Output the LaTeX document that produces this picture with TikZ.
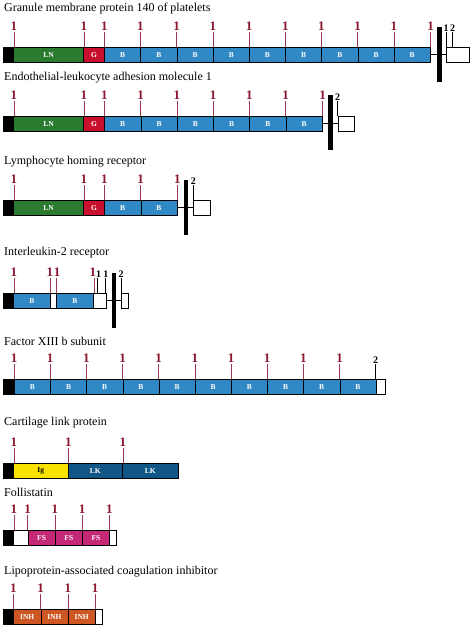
\documentclass[tikz,border=0pt]{standalone}
\usepackage{fontspec}
\setmainfont{Liberation Serif}
\usetikzlibrary{positioning}
\definecolor{lnGreen}{RGB}{42,122,48}
\definecolor{gRed}{RGB}{200,16,46}
\definecolor{bBlue}{RGB}{48,136,196}
\definecolor{igYellow}{RGB}{250,226,0}
\definecolor{lkBlue}{RGB}{16,86,134}
\definecolor{fsPink}{RGB}{198,40,120}
\definecolor{inhOrange}{RGB}{206,86,34}
\definecolor{oneRed}{RGB}{140,22,48}

\begin{document}
\begin{tikzpicture}[x=1pt,y=-1pt,
  title/.style={anchor=west,inner sep=0pt,font=\fontsize{12}{12}\selectfont},
  seg/.style={draw=black,line width=0.6pt,anchor=north west,inner sep=0pt,minimum height=15pt,text=white,font=\bfseries\fontsize{7.5}{7.5}\selectfont},
  one/.style={anchor=base,yshift=2pt,inner sep=0pt,text=oneRed,font=\bfseries\fontsize{13}{13}\selectfont},
  num/.style={anchor=base,yshift=1pt,inner sep=0pt,font=\bfseries\fontsize{10}{10}\selectfont},
  tick/.style={draw=oneRed!85,line width=0.5pt},
  ntick/.style={draw=black,line width=0.5pt},
  memb/.style={fill=black,anchor=north west,inner sep=0pt,minimum width=4.6pt,minimum height=55pt},
  link/.style={draw=black,line width=1pt}]
\useasboundingbox (0,0) rectangle (474,629);

% granule membrane protein 140
\node[title] (t1) at (4,9) {Granule membrane protein 140 of platelets};
\node[seg,fill=black,minimum width=10.3pt] (k1) at (3,47) {};
\node[seg,fill=lnGreen,minimum width=70pt] (ln1) at (13.3,47) {LN};
\node[seg,fill=gRed,minimum width=21pt] (g1) at (83.3,47) {G};
\foreach \i in {0,...,8}
  \node[seg,fill=bBlue,minimum width=36.19pt] (b1-\i) at ({104.3+36.19*\i},47) {B};
\node[seg,fill=white,minimum width=23pt] (c1) at (446,47) {};
\draw[link] (b1-8.east) -- (c1.west);
\node[memb] (m1) at (436.7,26.7) {};
\draw[tick] (k1.north east) -- ++(0,-15) node[one] (o1-a) {1};
\draw[tick] (ln1.north east) -- ++(0,-15) node[one] (o1-b) {1};
\foreach \i in {0,...,8}
  \draw[tick] (b1-\i.north west) -- ++(0,-15) node[one] (o1-\i) {1};
\draw[tick] (b1-8.north east) -- ++(0,-15) node[one] (o1-e) {1};
\draw[ntick] (c1.north west) -- ++(0,-15) node[num] (n1-a) {1};
\draw[ntick] (452.7,47) -- ++(0,-15) node[num] (n1-b) {2};

% endothelial-leukocyte adhesion molecule 1
\node[title] (t2) at (4,78) {Endothelial-leukocyte adhesion molecule 1};
\node[seg,fill=black,minimum width=10.3pt] (k2) at (3,116) {};
\node[seg,fill=lnGreen,minimum width=70pt] (ln2) at (13.3,116) {LN};
\node[seg,fill=gRed,minimum width=21pt] (g2) at (83.3,116) {G};
\foreach \i in {0,...,5}
  \node[seg,fill=bBlue,minimum width=36.28pt] (b2-\i) at ({104.3+36.28*\i},116) {B};
\node[seg,fill=white,minimum width=16.6pt] (c2) at (337.7,116) {};
\draw[link] (b2-5.east) -- (c2.west);
\node[memb] (m2) at (328.2,95) {};
\draw[tick] (k2.north east) -- ++(0,-15) node[one] (o2-a) {1};
\draw[tick] (ln2.north east) -- ++(0,-15) node[one] (o2-b) {1};
\foreach \i in {0,...,5}
  \draw[tick] (b2-\i.north west) -- ++(0,-15) node[one] (o2-\i) {1};
\draw[tick] (b2-5.north east) -- ++(0,-15) node[one] (o2-e) {1};
\draw[ntick] (c2.north west) -- ++(0,-15) node[num] (n2-a) {2};

% lymphocyte homing receptor
\node[title] (t3) at (4,162) {Lymphocyte homing receptor};
\node[seg,fill=black,minimum width=10.3pt] (k3) at (3,200) {};
\node[seg,fill=lnGreen,minimum width=70pt] (ln3) at (13.3,200) {LN};
\node[seg,fill=gRed,minimum width=21pt] (g3) at (83.3,200) {G};
\foreach \i in {0,1}
  \node[seg,fill=bBlue,minimum width=36.2pt] (b3-\i) at ({104.3+36.2*\i},200) {B};
\node[seg,fill=white,minimum width=16.7pt] (c3) at (193.3,200) {};
\draw[link] (b3-1.east) -- (c3.west);
\node[memb] (m3) at (183.6,179.7) {};
\draw[tick] (k3.north east) -- ++(0,-15) node[one] (o3-a) {1};
\draw[tick] (ln3.north east) -- ++(0,-15) node[one] (o3-b) {1};
\foreach \i in {0,1}
  \draw[tick] (b3-\i.north west) -- ++(0,-15) node[one] (o3-\i) {1};
\draw[tick] (b3-1.north east) -- ++(0,-15) node[one] (o3-e) {1};
\draw[ntick] (c3.north west) -- ++(0,-15) node[num] (n3-a) {2};

% interleukin-2 receptor
\node[title] (t4) at (4,253) {Interleukin-2 receptor};
\node[seg,fill=black,minimum width=10.3pt] (k4) at (3,293) {};
\node[seg,fill=bBlue,minimum width=36.4pt] (b4-0) at (13.3,293) {B};
\node[seg,fill=white,minimum width=6.3pt] (w4-0) at (49.7,293) {};
\node[seg,fill=bBlue,minimum width=37.3pt] (b4-1) at (56,293) {B};
\node[seg,fill=white,minimum width=12.7pt] (w4-1) at (93.3,293) {};
\node[seg,fill=white,minimum width=7.3pt] (c4) at (121,293) {};
\draw[link] (w4-1.east) -- (c4.west);
\node[memb] (m4) at (111.6,273) {};
\draw[tick] (k4.north east) -- ++(0,-15) node[one] (o4-a) {1};
\draw[tick] (b4-0.north east) -- ++(0,-15) node[one,xshift=-0.4pt] (o4-b) {1};
\draw[tick] (w4-0.north east) -- ++(0,-15) node[one,xshift=0.4pt] (o4-c) {1};
\draw[tick] (b4-1.north east) -- ++(0,-15) node[one,xshift=-1pt] (o4-d) {1};
\draw[ntick] (97.7,293) -- ++(0,-15) node[num,xshift=0.8pt] (n4-a) {1};
\draw[ntick] (105.2,293) -- ++(0,-15) node[num,xshift=0.6pt] (n4-b) {1};
\draw[ntick] (c4.north west) -- ++(0,-15) node[num] (n4-c) {2};

% factor XIII b
\node[title] (t5) at (4,341.5) {Factor XIII b subunit};
\node[seg,fill=black,minimum width=11pt] (k5) at (3,379) {};
\foreach \i in {0,...,9}
  \node[seg,fill=bBlue,minimum width=36.17pt] (b5-\i) at ({14+36.17*\i},379) {B};
\node[seg,fill=white,minimum width=9.3pt] (c5) at (375.7,379) {};
\foreach \i in {0,...,9}
  \draw[tick] (b5-\i.north west) -- ++(0,-15) node[one] (o5-\i) {1};
\draw[ntick] (c5.north west) -- ++(0,-15) node[num] (n5-a) {2};

% cartilage link protein
\node[title] (t6) at (4,423) {Cartilage link protein};
\node[seg,fill=black,minimum width=10.3pt] (k6) at (3,463) {};
\node[seg,fill=igYellow,minimum width=54.4pt,text=black] (ig6) at (13.3,463) {Ig};
\node[seg,fill=lkBlue,minimum width=54.6pt] (lk6-0) at (67.7,463) {LK};
\node[seg,fill=lkBlue,minimum width=55.4pt] (lk6-1) at (122.3,463) {LK};
\draw[tick] (k6.north east) -- ++(0,-15) node[one] (o6-a) {1};
\draw[tick] (ig6.north east) -- ++(0,-15) node[one] (o6-b) {1};
\draw[tick] (lk6-0.north east) -- ++(0,-15) node[one] (o6-c) {1};

% follistatin
\node[title] (t7) at (4,492) {Follistatin};
\node[seg,fill=black,minimum width=10.3pt] (k7) at (3,530) {};
\node[seg,fill=white,minimum width=14.4pt] (w7) at (13.3,530) {};
\foreach \i in {0,1,2}
  \node[seg,fill=fsPink,minimum width=27.2pt] (fs7-\i) at ({27.7+27.2*\i},530) {FS};
\node[seg,fill=white,minimum width=6.8pt] (c7) at (109.3,530) {};
\draw[tick] (k7.north east) -- ++(0,-15) node[one] (o7-a) {1};
\foreach \i in {0,1,2}
  \draw[tick] (fs7-\i.north west) -- ++(0,-15) node[one] (o7-\i) {1};
\draw[tick] (c7.north west) -- ++(0,-15) node[one] (o7-e) {1};

% lipoprotein-associated coagulation inhibitor
\node[title] (t8) at (4,572) {Lipoprotein-associated coagulation inhibitor};
\node[seg,fill=black,minimum width=10.3pt] (k8) at (3,609) {};
\foreach \i in {0,1,2}
  \node[seg,fill=inhOrange,minimum width=27.23pt] (in8-\i) at ({13.3+27.23*\i},609) {INH};
\node[seg,fill=white,minimum width=7.3pt] (c8) at (95,609) {};
\foreach \i in {0,1,2}
  \draw[tick] (in8-\i.north west) -- ++(0,-15) node[one] (o8-\i) {1};
\draw[tick] (c8.north west) -- ++(0,-15) node[one] (o8-e) {1};
\end{tikzpicture}
\end{document}
